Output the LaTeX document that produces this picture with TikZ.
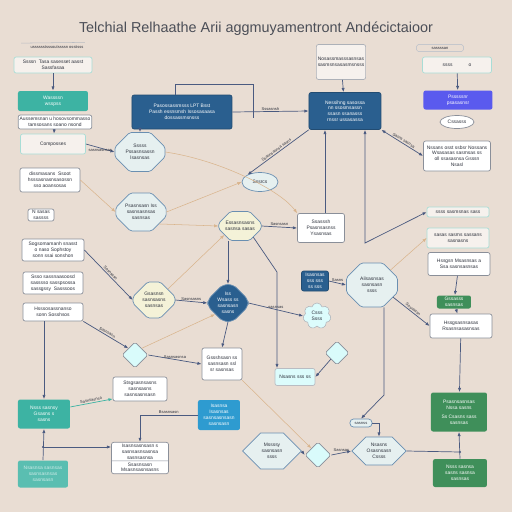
\documentclass[tikz,border=0pt]{standalone}
\usepackage{fontspec}
\setmainfont{Liberation Sans}
\usetikzlibrary{arrows.meta,shapes.geometric,shapes.misc,shapes.symbols,shapes.multipart}
\definecolor{papier}{HTML}{E9DDD3}
\definecolor{tinte}{HTML}{2B2F3A}
\definecolor{rand}{HTML}{8A8F99}
\definecolor{dblau}{HTML}{2A5F8F}
\definecolor{tuerkis}{HTML}{3DB3A3}
\definecolor{gruen}{HTML}{3F8F5A}
\definecolor{lila}{HTML}{5A5AEE}
\definecolor{cyanblau}{HTML}{2E9BD0}
\definecolor{hellblau}{HTML}{E6F0F0}
\definecolor{gelblich}{HTML}{F4F2D8}
\definecolor{linie}{HTML}{4A5A80}
\definecolor{ocker}{HTML}{D9B48C}

\begin{document}
\begin{tikzpicture}[
    x=0.02cm, y=-0.02cm,
    >={Latex[length=2.4pt,width=1.8pt]},
    font=\fontsize{2.8}{3.3}\selectfont,
    wh/.style 2 args={minimum width=#1*0.02cm, minimum height=#2*0.02cm},
    block/.style={rectangle, draw=rand, fill=white, rounded corners=1.2pt, line width=0.4pt, align=center, inner sep=0.8pt, text=tinte},
    blass/.style={block, draw=tuerkis!45, fill=white!60!papier},
    blau/.style={block, fill=dblau, draw=dblau!80!black, text=white},
    tuerk/.style={block, fill=tuerkis, draw=none, text=white},
    gruenbox/.style={block, fill=gruen, draw=none, text=white},
    lilabox/.style={block, fill=lila, draw=none, text=white},
    cyanbox/.style={block, fill=cyanblau, draw=none, text=white},
    okt/.style={chamfered rectangle, chamfered rectangle xsep=5pt, fill=hellblau, draw=dblau!70, rounded corners=1pt, line width=0.4pt, align=center, inner sep=0.5pt, text=tinte},
    oktgelb/.style={okt, fill=gelblich},
    hex/.style={signal, signal to=east and west, fill=hellblau, draw=dblau!70, line width=0.4pt, align=center, inner sep=0.5pt, text=tinte},
    raute/.style={diamond, aspect=1, fill=hellblau!70!cyan!40, draw=rand, rounded corners=1pt, line width=0.4pt, inner sep=0pt},
    oval/.style={ellipse, fill=hellblau, draw=dblau!70, line width=0.4pt, align=center, inner sep=0.5pt, text=tinte},
    pfeil/.style={->, draw=linie, line width=0.4pt},
    faden/.style={->, draw=ocker, line width=0.3pt},
    lbl/.style={font=\fontsize{2.3}{2.8}\selectfont, inner sep=0.6pt, text=tinte}
]
% Hintergrund
\fill[papier] (0,0) rectangle (512,512);
\useasboundingbox (0,0) rectangle (512,512);

% Titel
\node[font=\fontsize{8.2}{10}\selectfont, text=tinte!85] at (256,29) (titel) {Telchial Relhaathe Arii aggmuyamentront Andécictaioor};

% Linke Spalte
\node[lbl] at (57,47) (kopfL) {usssssstsssoutssssn ossiisss};
\draw[rand!60, line width=0.3pt] (kopfL.north west) ++(-8,-1) -- ([yshift=1pt]kopfL.north east);
\node[blass, wh={78}{16}] at (53,65) (boxA) {Ssssn \ Tasa sasesset aasst\\Sassfasaa};
\node[tuerk, wh={70}{20}] at (53,101) (tealA) {Wassssn\\wsspss};
\node[block, wh={60}{14}] at (55,122) (boxB) {Aussemsnan u hosovsommasso\\tamsosans soano nsond};
\node[blass, wh={65}{20}] at (53,144) (boxC) {Composses};
\node[block, wh={60}{24}] at (50,180) (boxD) {dissmasans \ Ssoot\\hsssasnasnsasossn\\sso aoansosas};
\node[block, wh={26}{10}] at (41,215) (boxE) {N sasas\\sassss};
\node[block, wh={62}{22}] at (53,250) (boxF) {Sogsomamanh snasst\\o naso Sophstoy\\sonn ssai sonshon};
\node[block, wh={60}{22}] at (53,283) (boxG) {Ssso sassnaasoosd\\sasssso sasspsossa\\sassgssy \ Sasssoos};
\node[block, wh={60}{18}] at (53,312) (boxH) {Hsssosassnanso\\sonn Sosshsos};

% Obere Mitte
\node[blau, wh={100}{34}] at (182,112) (blueA) {Pasossassmsss LPT Bsst\\Passh essnsmsh Issosasaasa\\dossassmsnsss};
\node[blass, draw=rand!70, wh={49}{35}] at (341,62) (topBox) {Nosassmasssasnsas\\sasmsnsasasmsnsss};
\node[blau, wh={72}{37}] at (345,111) (blueB) {Nessihng sasossa\\nn ssosmsassn\\ssasn ssanasss\\rnssr ussasassa};

% Rechte Spalte
\node[lbl, draw=rand!50, rounded corners=1pt, wh={47}{7}] at (440,48) (kopfR) {sassssan};
\node[blass, wh={69}{16}] at (457,65) (boxTR) {ssss \quad\quad\quad o};
\node[lilabox, wh={69}{19}] at (458,100) (purpleA) {Psssssnr\\psasasnsr};
\node[oval, fill=white, draw=rand, minimum width=34*0.02cm, minimum height=13*0.02cm] at (457,122) (ellA) {Cssasss};
\node[block, wh={67}{30}] at (457,156) (boxI) {Nssans osst ssbsr Nossans\\Wsasasas sasmsas ss\\oll ssasasnsa Gsssn\\Nsasl};
\node[blass, wh={62}{10}] at (458,212) (boxK) {ssss sasmsnas sass};
\node[blass, wh={62}{20}] at (458,238) (boxL) {sasas sasms sassans\\sasnasns};
\node[block, wh={62}{23}] at (459,264) (boxM) {Hssgsn Msasnsas a\\Ssa sasnsasnsas};
\node[gruenbox, wh={34}{13}] at (454,302) (greenA) {Gssasss\\sasnsas};
\node[block, wh={62}{24}] at (461,326) (boxN) {Hssgsasnsasas\\Rsasnsasasnsas};
\node[gruenbox, wh={56}{39}] at (459,412) (greenB) {Psasnsasnsas\\Nssa sasns\\[2pt]Ss Csasns sass\\sasnsas};
\node[gruenbox, wh={54}{28}] at (460,473) (greenC) {Nsss sasnsa\\sasns sasnsa\\sasnsas};

% Mitte
\node[okt, wh={50}{39}] at (140,152) (octA) {Sssss\\Pssasnsassn\\lsasnsas};
\node[oval, minimum width=36*0.02cm, minimum height=19*0.02cm] at (260,182) (ellB) {Sssrcs};
\node[okt, wh={46}{38}] at (141,212) (octC) {Psasnsasn Iss\\sasnsasnsas\\sasnsas};
\node[oktgelb, wh={34}{29}] at (240,226) (octB) {Essasnsasns\\sasnsa sasas};
\node[block, wh={47}{29}] at (321,228) (boxJ) {Ssasssh\\Psasnsasnss\\Ysasnsas};
\node[oktgelb, wh={32}{36}] at (154,300) (octD) {Gsasnsn\\sasnsasns\\sasnsas};
\node[okt, fill=dblau, text=white, rounded corners=3pt, wh={31}{37}] at (228,303) (blobE) {Iss\\Wsass ss\\sasnsasn\\sasns};
\node[blau, wh={27}{20}] at (315,281) (blueC) {Isasnsas\\sss sss\\ss sss};
\node[okt, wh={51}{44}] at (372,285) (octF) {Ailsasnsas\\sasnsasn\\ssss};
\node[cloud, cloud puffs=7, fill=hellblau!60!cyan!30, draw=rand!70, line width=0.3pt, text=tinte, align=center, inner sep=0pt, wh={28}{26}] at (317,316) (cloudG) {Csss\\Ssss};

% Untere Haelfte
\node[raute, minimum size=26*0.02cm] at (135,355) (diamA) {};
\node[block, wh={40}{32}] at (222,364) (boxO) {Gssshsasn ss\\sasnsasn ssl\\sr sasnsas};
\node[block, wh={54}{24}] at (140,389) (boxP) {Stsgsasnsasns\\sasnsasns\\sasnsasnsasn};
\node[tuerk, wh={52}{29}] at (44,414) (tealB) {Nsss sasnsy\\Gsasns s\\sasns};
\node[cyanbox, wh={42}{30}] at (219,415) (cyanA) {Isasnsa\\Isasnsas\\sasnsasnsasn\\sasnsasn};
\node[block, rectangle split, rectangle split parts=2, minimum width=57*0.02cm] at (140,458) (boxQ) {Isasnsasnsasn s\\sasnsasnsasnsa\\sasnsasnsa \nodepart{second} Ssasnsasn\\Msasnsasnsasns};
\node[tuerk, fill=tuerkis!85!white, text=white!75!tuerkis, wh={50}{27}] at (43,474) (tealC) {Nsasnsa sasnsas\\sasnsasnsas\\sasnsasn};
\node[block, fill=hellblau!60!cyan!30, draw=rand!60, wh={40}{17}] at (295,377) (boxR) {Nsasns sss ss};
\node[raute, minimum size=24*0.02cm] at (337,353) (diamC) {};
\node[hex, wh={43}{36}] at (272,451) (hexH) {Mssssy\\sasnsasn\\ssss};
\node[raute, minimum size=26*0.02cm] at (318,455) (diamB) {};
\node[block, fill=hellblau, draw=dblau!70, rounded corners=2pt, wh={22}{8}, font=\fontsize{2.3}{2.8}\selectfont] at (361,423) (pillJ) {sasnss};
\node[hex, wh={44}{28}] at (379,451) (hexI) {Nsasns\\Osasnsasn\\Cssss};

% Verbindungspfeile
\draw[pfeil] (boxA) -- (tealA);
\draw[pfeil] (boxB) -- (boxC);
\draw[pfeil] (boxC.east) -- node[lbl, below]{sasnsasnsas} (octA.west);
\draw[pfeil] (blueA.south -| octA.north) -- (octA.north);
\coordinate (knick) at (253,84);
\draw[linie, line width=0.4pt] (blueA.110) |- (knick) -- ++(0,34);
\draw[pfeil] (blueA.east) -- node[lbl, above]{Sssasnsh} (blueB.west);
\draw[pfeil] (topBox) -- (blueB);
\draw[pfeil] (boxTR) -- (purpleA);
\draw[<->, draw=linie, line width=0.4pt] (blueB.south east) -- node[lbl, above, sloped]{Sasns sasnsa} (boxI.west);
\draw[pfeil] (blueB.south west) -- node[lbl, above, sloped]{Ssasnsasnsa sasns} (ellB.150);
\draw[pfeil] (boxJ.75) -- (boxJ.75 |- blueB.south);
\coordinate (ecke) at (365,243);
\draw[<->, draw=linie, line width=0.4pt] (blueB.south -| ecke) -- (ecke) -- (boxK.west);
\draw[pfeil] (octB.east) -- node[lbl, above]{Sasnsasn} (boxJ.west);
\draw[pfeil] (octB.south -| blobE.north) -- (blobE.north);
\draw[pfeil] (octD.east) -- node[lbl, above]{Sasnsasns} (blobE.west);
\draw[pfeil] (blobE.east) -- node[lbl, above]{sasnsas} (cloudG.west);
\coordinate (k4) at (277,272);
\draw[pfeil] (octB.-40) -- (k4) -- (k4 |- boxR.north);
\draw[pfeil] (blueC.east) -- node[lbl, above]{Sasns} (octF.west);
\draw[pfeil] (octF.-30) -- node[lbl, above, sloped]{Sasnsasn} (boxN.west);
\draw[pfeil] (boxM) -- (greenA);
\draw[pfeil] (greenA) -- (boxN);
\draw[pfeil] (boxN) -- (greenB);
\draw[pfeil] (greenC.north) -- (greenB.south);
\coordinate (kreuz) at (460,452);
\draw[linie, line width=0.4pt] (hexI.east) -- (kreuz);
\fill[linie] (kreuz) circle (1.2);
\draw[pfeil] (hexH.east) -- (diamB.west);
\draw[pfeil] (diamB.east) -- node[lbl, above]{Sasnsas} (hexI.west);
\draw[pfeil] (pillJ.east) -| (hexI.north);
\coordinate (knick2) at (384,395);
\draw[pfeil] (octF.south -| knick2) -- (knick2) -- (pillJ.north);
\draw[pfeil] (diamC.south west) -- (boxR.east);
\draw[pfeil] (diamA.east) -- node[lbl, above]{Sasnsasnsa} (boxO.west);
\draw[pfeil] (boxH.south east) -- node[lbl, above, sloped]{Sasnsasn} (diamA.north west);
\draw[pfeil] (boxH.south -| tealB.north) -- (tealB.north);
\draw[->, draw=tuerkis, line width=0.4pt] (tealB.15) -- node[lbl, above, sloped]{Sasnsasnsa} (boxP.200);
\coordinate (abzw) at (43,447);
\draw[pfeil] (tealC.north) -- (tealB.south);
\fill[linie] (abzw) circle (1.2);
\draw[pfeil] (abzw) -- (boxQ.west |- abzw);
\draw[pfeil] (cyanA.west) -| node[lbl, above, pos=0.25]{Bsasnsasn} (boxQ.north);
\draw[pfeil] (blobE.south) -- (boxO.north);
\draw[faden] (boxD.east) -- (octC.west);
\draw[faden] (octA.east) .. controls (220,160) and (280,190) .. (boxJ.north west);
\draw[faden] (octC.east) -- (ellB.west);
\draw[faden] (octC.south east) -- (octB.west);
\draw[pfeil] (boxF.east) -- node[lbl, above, sloped]{Sasnsasn} (octD.west);
\draw[faden] (octD.north east) -- (octB.south west);
\draw[faden] (boxO.south east) -- (diamB.north west);
\draw[faden] (octF.north east) -- (boxL.west);
\draw[faden] (diamA.north east) -- (blobE.south west);
\end{tikzpicture}
\end{document}
